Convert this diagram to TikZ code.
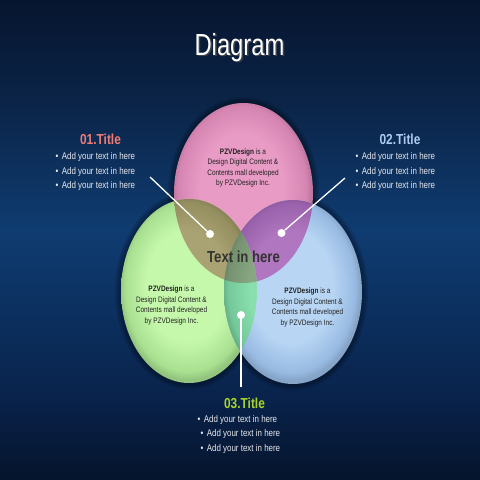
\documentclass[tikz,border=0pt]{standalone}
\usepackage{fontspec}
\setmainfont{Liberation Sans}[FakeStretch=0.82]
\newfontfamily\titlefont{Liberation Sans}[FakeStretch=0.78]
\definecolor{bg0}{HTML}{06152F}
\definecolor{bg1}{HTML}{0B2447}
\definecolor{bg2}{HTML}{0F3C71}
\definecolor{bg3}{HTML}{0C3262}
\definecolor{bg4}{HTML}{09224A}
\definecolor{bg5}{HTML}{05142C}
\pgfdeclareverticalshading{bgsh}{100bp}{%
  color(0bp)=(bg5); color(25bp)=(bg5); color(33.3bp)=(bg4);
  color(43.75bp)=(bg3); color(51bp)=(bg2); color(64.6bp)=(bg1);
  color(75bp)=(bg0); color(100bp)=(bg0)}
\definecolor{pinkC}{HTML}{E89BC5}
\definecolor{pinkE}{HTML}{D685B2}
\definecolor{greenC}{HTML}{C6F8AC}
\definecolor{greenE}{HTML}{A8E090}
\definecolor{blueC}{HTML}{B8D6F4}
\definecolor{blueE}{HTML}{98BAE2}
\definecolor{oliveC}{HTML}{A9A272}
\definecolor{oliveE}{HTML}{948E60}
\definecolor{purpC}{HTML}{B076C0}
\definecolor{purpE}{HTML}{9A62AC}
\definecolor{mintC}{HTML}{8ADFAE}
\definecolor{mintE}{HTML}{74C89A}
\definecolor{tripC}{HTML}{88A682}
\definecolor{tripE}{HTML}{769270}
\definecolor{t1col}{HTML}{F07C74}
\definecolor{t2col}{HTML}{AECBF2}
\definecolor{t3col}{HTML}{A8D42C}
\definecolor{bulcol}{HTML}{E6E8EC}
\definecolor{bodycol}{HTML}{222222}
\newcommand\mkshade[3]{%
  \pgfdeclareradialshading{#1}{\pgfpoint{-1bp}{2bp}}{%
    color(0bp)=(#2); color(15bp)=(#2); color(23bp)=(#3);
    color(25bp)=(#3!88!black); color(50bp)=(#3!88!black)}}
\mkshade{shP}{pinkC}{pinkE}
\mkshade{shG}{greenC}{greenE}
\mkshade{shB}{blueC}{blueE}
\mkshade{shO}{oliveC}{oliveE}
\mkshade{shU}{purpC}{purpE}
\mkshade{shM}{mintC}{mintE}
\mkshade{shT}{tripC}{tripE}
\begin{document}
\begin{tikzpicture}[x=1pt,y=-1pt,
  shadowfill/.style={fill=black,opacity=0.13},
  dot/.style={circle,fill=white,draw=none,inner sep=0pt,minimum size=8pt},
  conn/.style={draw=white,line width=1.3pt},
  ttl/.style={inner sep=0pt,font=\fontsize{14.5}{16}\selectfont\bfseries},
  bul/.style={anchor=base west,inner sep=0pt,text=bulcol,font=\fontsize{9.7}{11}\selectfont},
  body/.style={inner sep=0pt,align=center,text=bodycol,font=\fontsize{7.9}{10.5}\selectfont}]
\useasboundingbox (0,0) rectangle (480,480);
\shade[shading=bgsh] (0,0) rectangle (480,480);
% centres
\coordinate (cP) at (243.5,193);
\coordinate (cG) at (189,291);
\coordinate (cB) at (293,292);
% shadows
\foreach \k in {2,4,6}{
  \fill[shadowfill,shift={(1.5,2)}] (cP) ellipse [x radius=69.5pt+\k pt, y radius=90pt+\k pt];
  \fill[shadowfill,shift={(1.5,2)}] (cG) ellipse [x radius=68pt+\k pt, y radius=92pt+\k pt];
  \fill[shadowfill,shift={(1.5,2)}] (cB) ellipse [x radius=69pt+\k pt, y radius=92pt+\k pt];
}
% ellipses
\shade[shading=shP] (cP) ellipse [x radius=69.5pt, y radius=90pt];
\shade[shading=shG] (cG) ellipse [x radius=68pt, y radius=92pt];
\shade[shading=shB] (cB) ellipse [x radius=69pt, y radius=92pt];
\begin{scope}
  \clip (cP) ellipse [x radius=69.5pt, y radius=90pt];
  \shade[shading=shO] (cG) ellipse [x radius=68pt, y radius=92pt];
\end{scope}
\begin{scope}
  \clip (cP) ellipse [x radius=69.5pt, y radius=90pt];
  \shade[shading=shU] (cB) ellipse [x radius=69pt, y radius=92pt];
\end{scope}
\begin{scope}
  \clip (cG) ellipse [x radius=68pt, y radius=92pt];
  \shade[shading=shM] (cB) ellipse [x radius=69pt, y radius=92pt];
\end{scope}
\begin{scope}
  \clip (cP) ellipse [x radius=69.5pt, y radius=90pt];
  \clip (cG) ellipse [x radius=68pt, y radius=92pt];
  \shade[shading=shT] (cB) ellipse [x radius=69pt, y radius=92pt];
\end{scope}
% title
\node[anchor=base,inner sep=0pt,text=black!70,opacity=0.8] (titleshadow) at (241,56.5) {\titlefont\fontsize{30.5}{32}\selectfont Diagram};
\node[anchor=base,inner sep=0pt,text=white] (title) at (239.5,55) {\titlefont\fontsize{30.5}{32}\selectfont Diagram};
% ellipse texts
\node[body] (tP) at (243,168) {\textbf{PZVDesign} is a\\Design Digital Content \&\\Contents mall developed\\by PZVDesign Inc.};
\node[body] (tG) at (171.5,305.5) {\textbf{PZVDesign} is a\\Design Digital Content \&\\Contents mall developed\\by PZVDesign Inc.};
\node[body] (tB) at (307.5,307.5) {\textbf{PZVDesign} is a\\Design Digital Content \&\\Contents mall developed\\by PZVDesign Inc.};
\node[inner sep=0pt,text=black!80,font=\fontsize{16}{18}\selectfont\bfseries] (center) at (243.5,257) {Text in here};
% group 1
\node[ttl,text=t1col] (t1) at (100.5,139) {01.Title};
\node[bul] (b11) at (55.5,159.5) {\textbullet\hspace{3.3pt}Add your text in here};
\node[bul] (b12) at (55.5,174) {\textbullet\hspace{3.3pt}Add your text in here};
\node[bul] (b13) at (55.5,188) {\textbullet\hspace{3.3pt}Add your text in here};
% group 2
\node[ttl,text=t2col] (t2) at (400,139) {02.Title};
\node[bul] (b21) at (355.5,159.5) {\textbullet\hspace{3.3pt}Add your text in here};
\node[bul] (b22) at (355.5,174) {\textbullet\hspace{3.3pt}Add your text in here};
\node[bul] (b23) at (355.5,188) {\textbullet\hspace{3.3pt}Add your text in here};
% group 3
\node[ttl,text=t3col] (t3) at (244.5,403) {03.Title};
\node[bul] (b31) at (197.5,422.5) {\textbullet\hspace{3.3pt}Add your text in here};
\node[bul] (b32) at (200.5,436.5) {\textbullet\hspace{3.3pt}Add your text in here};
\node[bul] (b33) at (200.5,451.5) {\textbullet\hspace{3.3pt}Add your text in here};
% connectors
\node[dot] (d1) at (210,234) {};
\node[dot] (d2) at (281.5,233) {};
\node[dot] (d3) at (241,315) {};
\coordinate (s1) at (150,177);
\coordinate (s2) at (345,178);
\coordinate (s3) at (241,387);
\draw[conn] (s1) -- (d1);
\draw[conn] (s2) -- (d2);
\draw[conn] (s3) -- (d3);
\end{tikzpicture}
\end{document}
